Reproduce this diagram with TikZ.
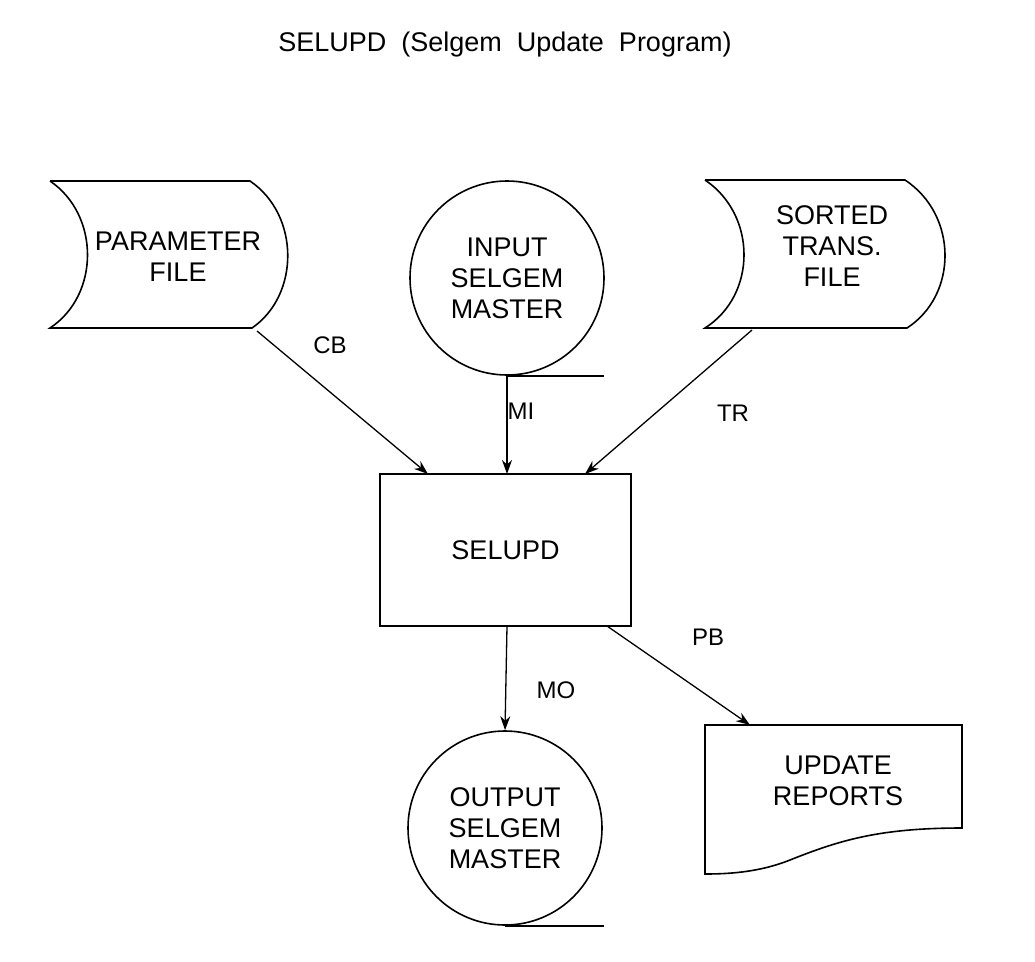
\documentclass[tikz,border=0pt]{standalone}
\usepackage{fontspec}
\setmainfont{Liberation Sans}
\usetikzlibrary{arrows.meta}
\begin{document}
\begin{tikzpicture}[x=1pt,y=-1pt,line width=1.6pt,
  txt/.style={font=\fontsize{27}{31}\selectfont,align=center},
  lbl/.style={font=\fontsize{24}{28}\selectfont},
  arr/.style={-{Stealth[length=14pt,width=10pt]},line width=1.3pt}]
\useasboundingbox (0,0) rectangle (1035,961);
\node[font=\fontsize{27}{31}\selectfont] (title) at (505,45) {SELUPD\ \ (Selgem\ \ Update\ \ Program)};
% parameter file
\draw (50,181) -- (250,181) .. controls (300,215) and (300,295) .. (252,328) -- (50,328) .. controls (100,295) and (100,215) .. (50,181);
\node[txt,inner sep=0] (pf) at (178,257) {PARAMETER\\FILE};
\coordinate (pfo) at (257,331);
% sorted trans
\draw (705,180) -- (905,180) .. controls (958,215) and (958,295) .. (907,328) -- (705,328) .. controls (757,295) and (757,215) .. (705,180);
\node[txt,inner sep=0] (tf) at (832,246) {SORTED\\TRANS.\\FILE};
\coordinate (tfo) at (752,330);
% input circle
\node[circle,draw,minimum size=194pt,inner sep=0,txt] (im) at (507,278) {INPUT\\SELGEM\\MASTER};
\draw (im.south) -- ++(97,0);
% process
\node[draw,minimum width=251pt,minimum height=152pt,txt] (p) at (505.5,550) {SELUPD};
% output circle
\node[circle,draw,minimum size=194pt,inner sep=0,txt] (om) at (505,828) {OUTPUT\\SELGEM\\MASTER};
\draw (om.south) -- ++(99,0);
% report
\draw (705,725) -- (962,725) -- (962,828) .. controls (880,828) and (840,840) .. (790,860) .. controls (760,872) and (730,874) .. (705,874) -- cycle;
\node[txt] (ur) at (838,781) {UPDATE\\REPORTS};
\coordinate (uri) at (750,725);
% arrows
\draw[arr] (pfo) -- (428,474);
\draw[arr] (im.south) -- (507,474);
\draw[arr] (tfo) -- (585,474);
\draw[arr] (507,626) -- (om.north);
\draw[arr] (607,626) -- (uri);
\node[lbl] at (330,345) {CB};
\node[lbl] at (521,411) {MI};
\node[lbl] at (733,413) {TR};
\node[lbl] at (556,690) {MO};
\node[lbl] at (708,637) {PB};
\end{tikzpicture}
\end{document}
